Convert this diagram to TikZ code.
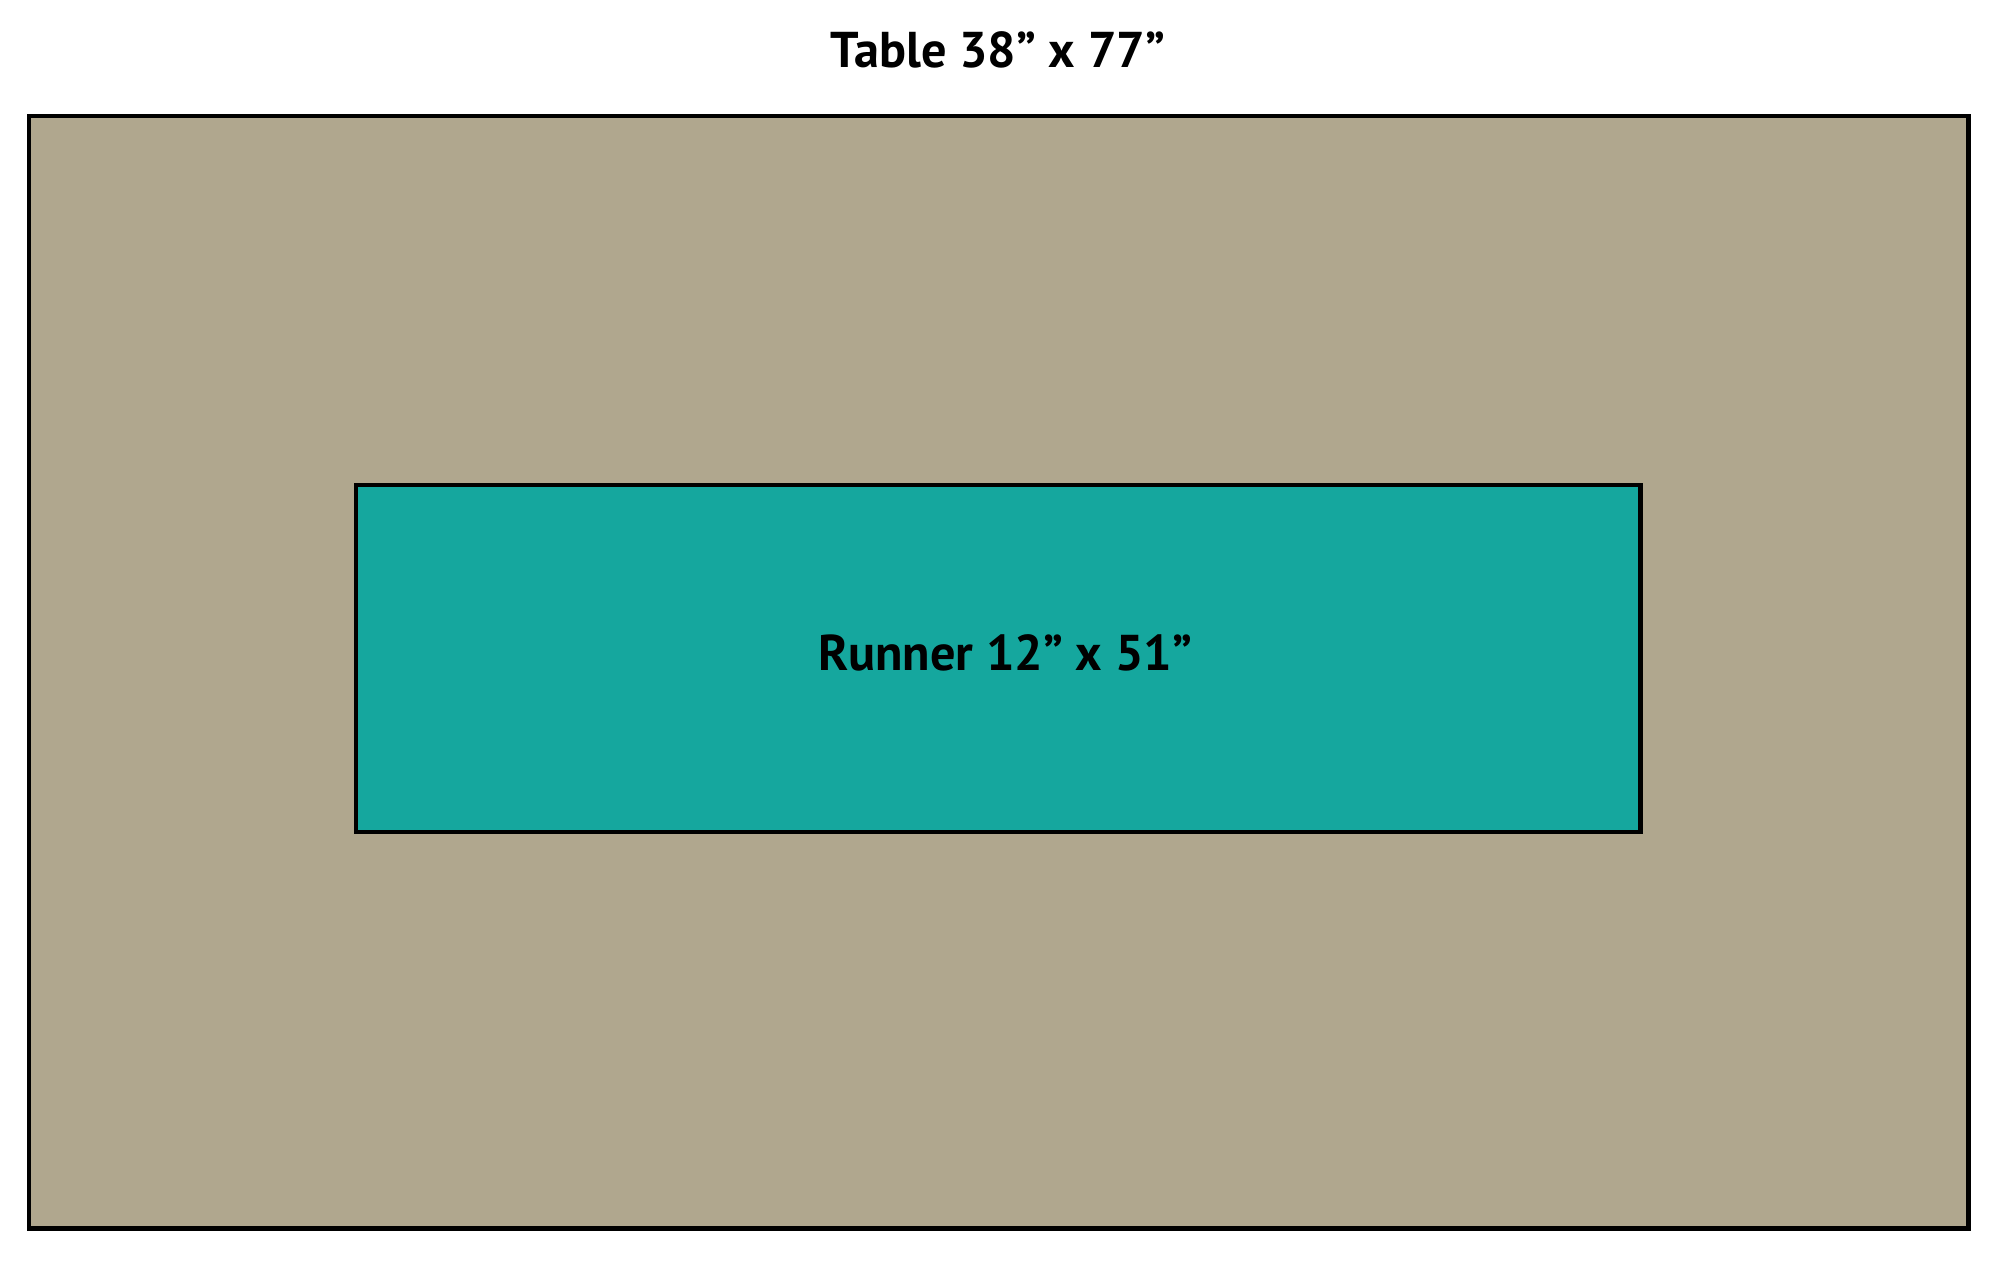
\documentclass[tikz,border=0pt]{standalone}
\usepackage{fontspec}
\setmainfont{PT Sans}
\definecolor{tablefill}{HTML}{B0A78E}
\definecolor{runnerfill}{HTML}{15A79E}
\begin{document}
\begin{tikzpicture}[x=1bp,y=-1bp,
  box/.style={draw=black,line width=4.3bp},
  lbl/.style={font=\fontsize{50.5}{56}\selectfont\bfseries,inner sep=0pt,anchor=base}]
\useasboundingbox (0,0) rectangle (2000,1266);
\draw[box,fill=tablefill] (29.3,116) rectangle (1968.5,1228.5);
\node[lbl] (title) at (998,67) {Table 38” x 77”};
\draw[box,fill=runnerfill] (356,485) rectangle (1640.5,832);
\node[lbl] (runner) at (1005,670) {Runner 12” x 51”};
\end{tikzpicture}
\end{document}
